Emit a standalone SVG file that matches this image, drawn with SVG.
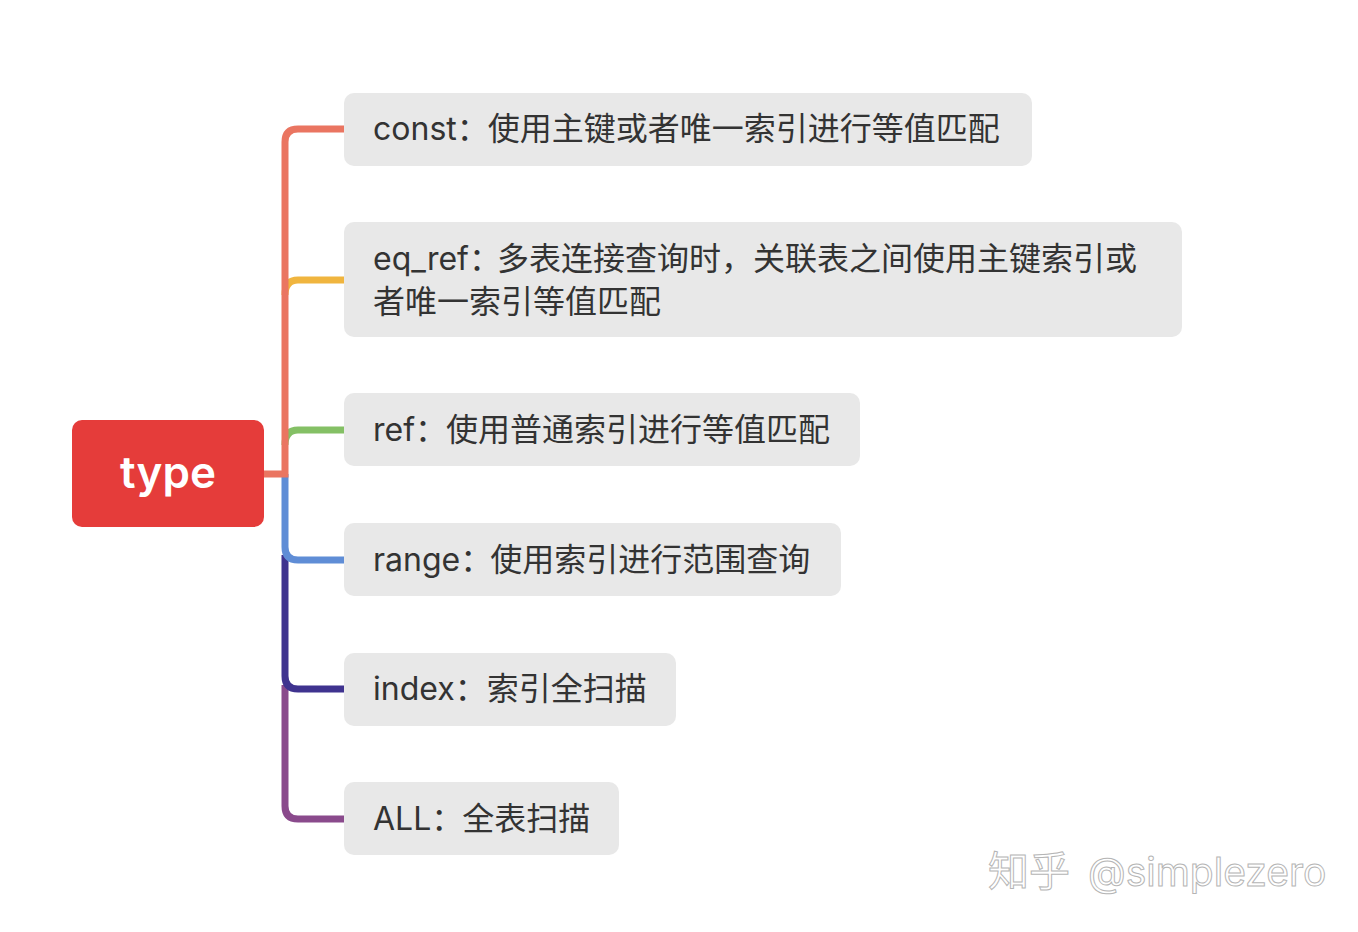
<svg xmlns="http://www.w3.org/2000/svg" width="1358" height="932" viewBox="0 0 1358 932">
<style>
.box{fill:#e8e8e8}
.t{font-family:"Inter","Noto Sans CJK SC",sans-serif;font-size:32px;fill:#333333}
.c{fill:none;stroke-width:7}
.wm{font-family:"Inter","Noto Sans CJK SC",sans-serif;font-size:41px;fill:#ffffff;stroke:#b5b5b5;stroke-width:1}
</style>
<rect width="1358" height="932" fill="#ffffff"/>
<g id="connectors">
<path class="c" stroke="#8a4a8c" d="M285 685V806Q285 819 298 819H344"/>
<path class="c" stroke="#3f338f" d="M285 555V676Q285 689 298 689H344"/>
<path class="c" stroke="#5f8dd6" d="M285 474V547Q285 560 298 560H344"/>
<path class="c" stroke="#f0b53f" d="M285 295Q285 280 298 280H344"/>
<path class="c" stroke="#84c065" d="M285 445Q285 430 298 430H344"/>
<path class="c" stroke="#ea7561" d="M344 129H298Q285 129 285 142V474H264"/>
</g>
<g id="root"><rect x="72" y="420" width="192" height="107" rx="10" fill="#e53c3a"/>
<text x="168" y="488" text-anchor="middle" font-family="Inter,sans-serif" font-size="44" font-weight="600" fill="#ffffff">type</text></g>
<g id="n1"><rect class="box" x="344" y="93" width="688" height="73" rx="10"/><text class="t" x="373" y="140">const：<tspan dx="-1">使用主键或者唯一索引进行等值匹配</tspan></text></g>
<g id="n2"><rect class="box" x="344" y="222" width="838" height="115" rx="10"/><text class="t" x="373" y="270">eq_ref：<tspan dx="-4">多表连接查询时，关联表之间使用主键索引或</tspan></text><text class="t" x="373" y="313">者唯一索引等值匹配</text></g>
<g id="n3"><rect class="box" x="344" y="393" width="516" height="73" rx="10"/><text class="t" x="373" y="441">ref：<tspan dx="-1">使用普通索引进行等值匹配</tspan></text></g>
<g id="n4"><rect class="box" x="344" y="523" width="497" height="73" rx="10"/><text class="t" x="373" y="571">range：<tspan dx="-2">使用索引进行范围查询</tspan></text></g>
<g id="n5"><rect class="box" x="344" y="653" width="332" height="73" rx="10"/><text class="t" x="373" y="700">index：索引全扫描</text></g>
<g id="n6"><rect class="box" x="344" y="782" width="275" height="73" rx="10"/><text class="t" x="373" y="830">ALL：<tspan dx="-1">全表扫描</tspan></text></g>
<text class="wm" x="988" y="886">知乎<tspan x="1088" font-size="39">@simplezero</tspan></text>
</svg>
